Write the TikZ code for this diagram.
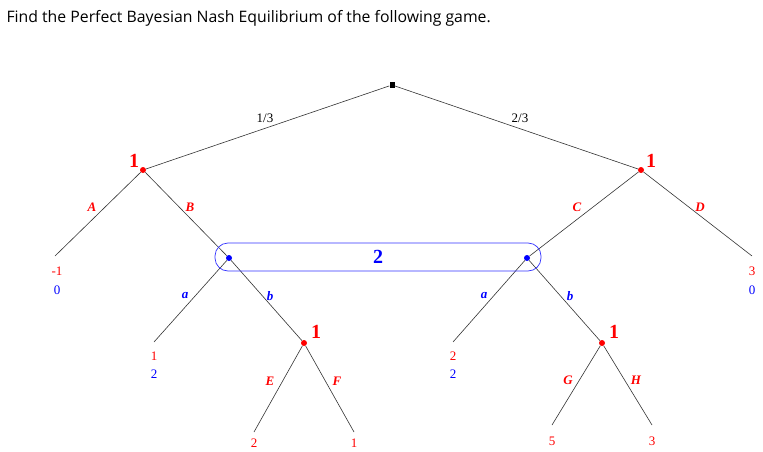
\documentclass[tikz,border=0pt]{standalone}
\usepackage{fontspec}
\setmainfont{Liberation Serif}
\newfontfamily\titlefont{Open Sans}
\newcommand{\fsz}[1]{\fontsize{#1}{#1}\selectfont}
\begin{document}
\begin{tikzpicture}[x=1pt,y=-1pt,
  edge/.style={draw=black!80,line width=0.6pt},
  rdot/.style={circle,fill=red,inner sep=0,minimum size=6pt},
  bdot/.style={circle,fill=blue,inner sep=0,minimum size=6pt},
  rlab/.style={text=red,font=\itshape\bfseries\fsz{13},inner sep=0},
  blab/.style={text=blue,font=\itshape\bfseries\fsz{13},inner sep=0},
  rpay/.style={text=red,font=\fsz{13},inner sep=0},
  bpay/.style={text=blue,font=\fsz{13},inner sep=0},
  pl1/.style={text=red,font=\bfseries\fsz{20},inner sep=0},
  prob/.style={font=\fsz{13},inner sep=0}]
\useasboundingbox (0,0) rectangle (763,452);
\node[anchor=west,font=\titlefont\fsz{15.8}] (title) at (3,18) {Find the Perfect Bayesian Nash Equilibrium of the following game.};
\node[fill=black,inner sep=0,minimum size=5pt] (r) at (392,85) {};
\node[rdot] (n1) at (143,170) {};
\node[rdot] (n2) at (641,170) {};
\node[bdot] (i1) at (229,258) {};
\node[bdot] (i2) at (527,258) {};
\node[rdot] (m1) at (304,343) {};
\node[rdot] (m2) at (602,343) {};
\coordinate (tA) at (55,256);
\coordinate (tD) at (752,256);
\coordinate (ta1) at (154,342);
\coordinate (ta2) at (453,342);
\coordinate (tE) at (254,432);
\coordinate (tF) at (354,432);
\coordinate (tG) at (552,425);
\coordinate (tH) at (652,425);
\draw[edge] (r)--(n1); \draw[edge] (r)--(n2);
\draw[edge] (n1)--(tA); \draw[edge] (n1)--(i1);
\draw[edge] (n2)--(i2); \draw[edge] (n2)--(tD);
\draw[edge] (i1)--(ta1); \draw[edge] (i1)--(m1);
\draw[edge] (i2)--(ta2); \draw[edge] (i2)--(m2);
\draw[edge] (m1)--(tE); \draw[edge] (m1)--(tF);
\draw[edge] (m2)--(tG); \draw[edge] (m2)--(tH);
\draw[blue!80,line width=0.7pt,rounded corners=13pt] (215,243) rectangle (541,271);
\node[text=blue,font=\bfseries\fsz{20},inner sep=0] (p2) at (378,257) {2};
\node[prob] (q1) at (265,118) {1/3};
\node[prob] (q2) at (520,118) {2/3};
\node[pl1] (l1) at (134,161) {1};
\node[pl1] (l2) at (651,161) {1};
\node[pl1] (l3) at (316,332) {1};
\node[pl1] (l4) at (614,332) {1};
\node[rlab] (A) at (92,207) {A};
\node[rlab] (B) at (190,207) {B};
\node[rlab] (C) at (577,207) {C};
\node[rlab] (D) at (700,207) {D};
\node[blab] (a1) at (185,296) {a};
\node[blab] (b1) at (270,296) {b};
\node[blab] (a2) at (484,296) {a};
\node[blab] (b2) at (570,296) {b};
\node[rlab] (E) at (270,381) {E};
\node[rlab] (F) at (337,381) {F};
\node[rlab] (G) at (568,380) {G};
\node[rlab] (H) at (636,380) {H};
\node[rpay] at (57,271) {-1}; \node[bpay] at (57,290) {0};
\node[rpay] at (154,356) {1}; \node[bpay] at (154,374) {2};
\node[rpay] at (453,356) {2}; \node[bpay] at (453,374) {2};
\node[rpay] at (752,271) {3}; \node[bpay] at (752,290) {0};
\node[rpay] at (254,443) {2}; \node[rpay] at (354,443) {1};
\node[rpay] at (552,441) {5}; \node[rpay] at (652,441) {3};
\end{tikzpicture}
\end{document}
